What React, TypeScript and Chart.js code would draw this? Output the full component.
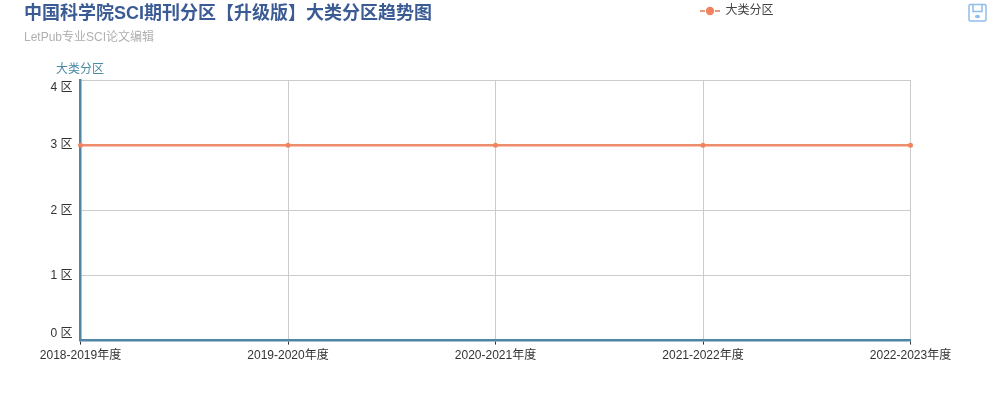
import React, { useEffect, useRef } from "react";
import { Chart, registerables } from "chart.js";

Chart.register(...registerables);

const categories = ["2018-2019年度", "2019-2020年度", "2020-2021年度", "2021-2022年度", "2022-2023年度"];
const seriesValues = [3, 3, 3, 3, 3];
const seriesName = "大类分区";
const titleText = "中国科学院SCI期刊分区【升级版】大类分区趋势图";
const subtitleText = "LetPub专业SCI论文编辑";
const axisName = "大类分区";
const tickSuffix = " 区";

const FONT = '"Liberation Sans", "Noto Sans CJK SC", sans-serif';
const LINE = "#ee8d6c";
const DOT = "#f3835f";
const AXIS = "#4f84a3";

function legendGlyph() {
  const c = document.createElement("canvas");
  c.width = 20;
  c.height = 12;
  const g = c.getContext("2d")!;
  g.strokeStyle = "#e99a7c";
  g.lineWidth = 2;
  g.beginPath();
  g.moveTo(0, 6);
  g.lineTo(20, 6);
  g.stroke();
  g.clearRect(5, 0, 10, 12);
  g.fillStyle = DOT;
  g.beginPath();
  g.arc(10, 6, 4.2, 0, Math.PI * 2);
  g.fill();
  return c;
}

const decorations = {
  id: "decorations",
  afterLayout(chart: any) {
    const lg = chart.legend;
    lg.left = 690.5;
    lg.right = 900;
    lg.top = -5;
    lg.bottom = 21;
  },
  afterDraw(chart: any) {
    const ctx = chart.ctx;
    ctx.save();
    ctx.font = `12px ${FONT}`;
    ctx.fillStyle = "#4b8aa5";
    ctx.textAlign = "left";
    ctx.textBaseline = "middle";
    ctx.fillText(axisName, 56, 70);

    ctx.strokeStyle = "#8fbdec";
    ctx.lineWidth = 1.5;
    ctx.beginPath();
    ctx.roundRect(969, 4.5, 17, 16.5, 1.5);
    ctx.stroke();
    ctx.beginPath();
    ctx.moveTo(973, 5);
    ctx.lineTo(973, 11.5);
    ctx.lineTo(982, 11.5);
    ctx.lineTo(982, 5);
    ctx.stroke();
    ctx.fillStyle = "#8fbdec";
    ctx.beginPath();
    ctx.ellipse(977.5, 16.5, 2.6, 1.8, 0, 0, Math.PI * 2);
    ctx.fill();
    ctx.restore();
  },
};

export default function App() {
  const ref = useRef<HTMLCanvasElement>(null);
  useEffect(() => {
    const chart = new Chart(ref.current!, {
      type: "line",
      data: {
        labels: categories,
        datasets: [
          {
            label: seriesName,
            data: seriesValues,
            borderColor: LINE,
            backgroundColor: LINE,
            borderWidth: 2.5,
            pointRadius: 2.5,
            pointBorderWidth: 0,
            pointBackgroundColor: DOT,
            tension: 0,
            clip: false,
          },
        ],
      },
      plugins: [decorations],
      options: {
        responsive: false,
        animation: false,
        layout: { padding: { left: 24, right: 79.5, top: 0, bottom: 33 } },
        plugins: {
          tooltip: { enabled: false },
          title: {
            display: true,
            text: titleText,
            align: "start",
            color: "#3b5b95",
            font: { family: FONT, size: 18, weight: "bold" },
            padding: { top: 3, bottom: 6 },
          },
          subtitle: {
            display: true,
            text: subtitleText,
            align: "start",
            color: "#b0b0b0",
            font: { family: FONT, size: 12 },
            padding: { top: 0, bottom: 3 },
          },
          legend: {
            display: true,
            position: "top",
            align: "start",
            labels: {
              usePointStyle: true,
              pointStyle: legendGlyph(),
              pointStyleWidth: 19,
              color: "#444",
              font: { family: FONT, size: 12 },
              padding: 10,
            },
          },
        },
        scales: {
          x: {
            type: "category",
            offset: false,
            border: { color: AXIS, width: 2.5 },
            grid: { color: "#cccccc", lineWidth: 1, tickColor: "#333", tickLength: 4 },
            ticks: {
              autoSkip: false,
              maxRotation: 0,
              minRotation: 0,
              padding: 4,
              color: "#333",
              font: { family: FONT, size: 12 },
            },
          },
          y: {
            type: "linear",
            min: 0,
            max: 4,
            afterFit(scale: any) {
              scale.width = 56.5;
            },
            border: { color: AXIS, width: 2.5 },
            grid: { color: "#cccccc", lineWidth: 1, drawTicks: false },
            ticks: {
              stepSize: 1,
              padding: 8,
              color: "#333",
              font: { family: FONT, size: 12 },
              callback(value: any) {
                const text = `${value}${tickSuffix}`;
                if (value === 4) return ["", text];
                if (value === 0) return [text, ""];
                return text;
              },
            },
          },
        },
      },
    } as any);
    return () => chart.destroy();
  }, []);
  return (
    <canvas
      ref={ref}
      width={990}
      height={400}
      style={{ position: "absolute", left: 0, top: 0, width: 990, height: 400, display: "block" }}
    />
  );
}
